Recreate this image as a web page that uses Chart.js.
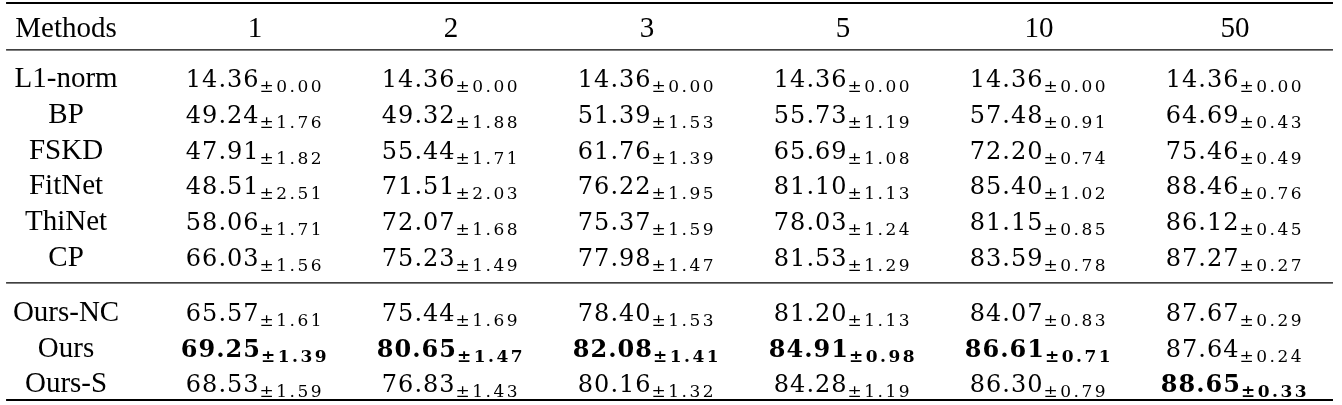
<!DOCTYPE html>
<html><head><meta charset="utf-8">
<script src="https://cdn.jsdelivr.net/npm/chart.js@4/dist/chart.umd.min.js"></script>
<style>html,body{margin:0;padding:0;background:#fff}</style>
</head><body>
<canvas id="c" width="1342" height="405"></canvas>
<script>
const headerTitle = "Methods";
const columns = ["1","2","3","5","10","50"];
const methods = ["L1-norm","BP","FSKD","FitNet","ThiNet","CP","Ours-NC","Ours","Ours-S"];
const means = [
  ["14.36","14.36","14.36","14.36","14.36","14.36"],
  ["49.24","49.32","51.39","55.73","57.48","64.69"],
  ["47.91","55.44","61.76","65.69","72.20","75.46"],
  ["48.51","71.51","76.22","81.10","85.40","88.46"],
  ["58.06","72.07","75.37","78.03","81.15","86.12"],
  ["66.03","75.23","77.98","81.53","83.59","87.27"],
  ["65.57","75.44","78.40","81.20","84.07","87.67"],
  ["69.25","80.65","82.08","84.91","86.61","87.64"],
  ["68.53","76.83","80.16","84.28","86.30","88.65"]
];
const stds = [
  ["0.00","0.00","0.00","0.00","0.00","0.00"],
  ["1.76","1.88","1.53","1.19","0.91","0.43"],
  ["1.82","1.71","1.39","1.08","0.74","0.49"],
  ["2.51","2.03","1.95","1.13","1.02","0.76"],
  ["1.71","1.68","1.59","1.24","0.85","0.45"],
  ["1.56","1.49","1.47","1.29","0.78","0.27"],
  ["1.61","1.69","1.53","1.13","0.83","0.29"],
  ["1.39","1.47","1.41","0.98","0.71","0.24"],
  ["1.59","1.43","1.32","1.19","0.79","0.33"]
];
const best = [
  [0,0,0,0,0,0],[0,0,0,0,0,0],[0,0,0,0,0,0],[0,0,0,0,0,0],[0,0,0,0,0,0],[0,0,0,0,0,0],
  [0,0,0,0,0,0],[1,1,1,1,1,0],[0,0,0,0,0,1]
];

const rowY = [1.4,2.4,3.4,4.4,5.4,6.4,7.93,8.93,9.93];
const methodX = -0.964;
const rules = [{y:-0.67,w:2},{y:0.64,w:1.2},{y:7.15,w:1.2},{y:10.42,w:2}];

const pts = [];
pts.push({x:methodX,y:0,t:headerTitle,k:"h"});
columns.forEach((c,j)=>pts.push({x:j,y:0,t:c,k:"h"}));
methods.forEach((m,i)=>{
  pts.push({x:methodX,y:rowY[i],t:m,k:"h"});
  columns.forEach((c,j)=>pts.push({x:j,y:rowY[i],t:means[i][j],s:"\u00b1"+stds[i][j],b:best[i][j],k:"v"}));
});

const tablePlugin = {
  id:'table',
  afterDatasetsDraw(chart){
    const ctx = chart.ctx, xs = chart.scales.x, ys = chart.scales.y;
    ctx.save();
    ctx.fillStyle = '#000'; ctx.strokeStyle = '#000';
    rules.forEach(r=>{
      const y = ys.getPixelForValue(r.y);
      ctx.lineWidth = r.w;
      ctx.beginPath(); ctx.moveTo(xs.getPixelForValue(-1.27),y); ctx.lineTo(xs.getPixelForValue(5.5),y); ctx.stroke();
    });
    ctx.textBaseline = 'alphabetic';
    const meta = chart.getDatasetMeta(0);
    meta.data.forEach((el,i)=>{
      const p = pts[i];
      const cx = el.x, cy = el.y + 10;
      if (p.k==='h'){
        ctx.letterSpacing = '0px';
        ctx.font = '29px "Liberation Serif"'; ctx.textAlign='center';
        ctx.fillText(p.t,cx,cy);
      } else {
        const mf = (p.b?'bold ':'')+'24px "DejaVu Serif"';
        const sf = (p.b?'bold ':'')+'17px "DejaVu Serif"';
        ctx.letterSpacing = '1px';
        ctx.font = mf; const w1 = ctx.measureText(p.t).width;
        ctx.letterSpacing = '2.5px';
        ctx.font = sf; const w2 = ctx.measureText(p.s).width;
        const x0 = cx - (w1+w2)/2;
        ctx.textAlign='left';
        ctx.letterSpacing = '1px';
        ctx.font = mf; ctx.fillText(p.t,x0,cy);
        ctx.letterSpacing = '2.5px';
        ctx.font = sf; ctx.fillText(p.s,x0+w1,cy+5);
      }
    });
    ctx.restore();
  }
};

new Chart(document.getElementById('c'),{
  type:'scatter',
  data:{datasets:[{data:pts,pointRadius:0,pointHoverRadius:0}]},
  options:{
    responsive:false, animation:false, devicePixelRatio:1,
    layout:{padding:0},
    plugins:{legend:{display:false},tooltip:{enabled:false}},
    scales:{
      x:{type:'linear',min:-1.301,max:5.546,display:false},
      y:{type:'linear',min:-0.754,max:10.56,reverse:true,display:false}
    }
  },
  plugins:[tablePlugin]
});
</script>
</body></html>
